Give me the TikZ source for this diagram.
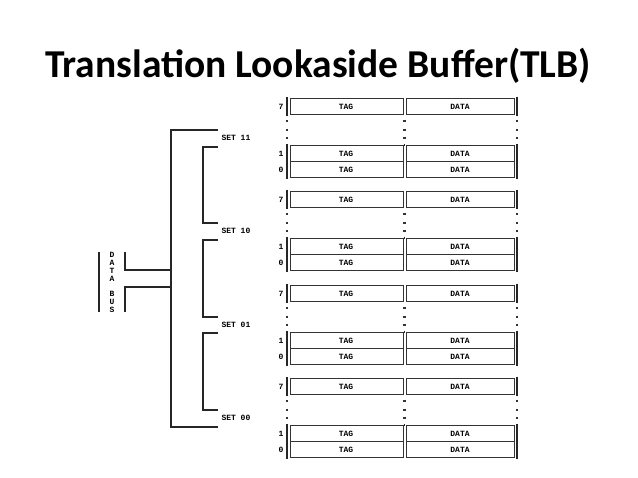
\documentclass[tikz,border=0pt]{standalone}
\usepackage{fontspec}
\setmainfont{Carlito}
\newfontfamily\mono{Liberation Mono}
\begin{document}
\begin{tikzpicture}[x=1pt,y=-1pt,
  ln/.style={line width=1.1pt,black!85},
  cell/.style={draw=black!80,line width=1pt},
  lbl/.style={font=\mono\bfseries\fontsize{8}{9}\selectfont},
  dot/.style={line width=2.4pt,black!80}]
\useasboundingbox (0,0) rectangle (638,478);
\node[font=\bfseries\fontsize{39.5}{44}\selectfont] (title) at (318,66) {Translation Lookaside Buffer(TLB)};
% sets
\foreach \s/\y/\lab in {s3/99/SET 11,s2/192/SET 10,s1/286/SET 01,s0/379/SET 00}{
  \foreach \r/\dy/\n in {a/0/7,b/47/1,c/63/0}{
    \draw[cell] (290,\y+\dy) rectangle (403,\y+\dy+16);
    \draw[cell] (406,\y+\dy) rectangle (514,\y+\dy+16);
    \node[lbl] (\s\r tag) at (346,\y+\dy+8) {TAG};
    \node[lbl] (\s\r data) at (460,\y+\dy+8) {DATA};
    \node[lbl] (\s\r n) at (281,\y+\dy+8) {\n};
  }
  \foreach \xx in {287,404.5,517}{
    \foreach \dd in {22,31,39}{\draw[dot] (\xx,\y+\dd-1.2) -- (\xx,\y+\dd+1.2);}
  }
  \draw[ln] (287,\y-2) -- (287,\y+17);
  \draw[ln] (517,\y-2) -- (517,\y+17);
  \draw[ln] (287,\y+45) -- (287,\y+80);
  \draw[ln] (517,\y+45) -- (517,\y+80);
  \draw[ln] (404.5,\y+45) -- (404.5,\y+47);
  \node[lbl,anchor=west] (\s lab) at (218,\y+39) {\lab};
}
% brackets
\coordinate (o1) at (218,130); \coordinate (o2) at (171,130);
\coordinate (o3) at (171,427); \coordinate (o4) at (218,427);
\draw[ln] (o1) -- (o2) -- (o3) -- (o4);
\foreach \a/\b/\i in {147/223/1,240/317/2,333/410/3}{
  \coordinate (p\i a) at (218,\a); \coordinate (p\i b) at (203,\a);
  \coordinate (p\i c) at (203,\b); \coordinate (p\i d) at (218,\b);
  \draw[ln] (p\i a) -- (p\i b) -- (p\i c) -- (p\i d);
}
% data bus
\coordinate (b1) at (99,252); \coordinate (b2) at (99,312);
\draw[ln] (b1) -- (b2);
\coordinate (c1) at (125,252); \coordinate (c2) at (125,270); \coordinate (c3) at (171,270);
\draw[ln] (c1) -- (c2) -- (c3);
\coordinate (d1) at (125,312); \coordinate (d2) at (125,287); \coordinate (d3) at (171,287);
\draw[ln] (d1) -- (d2) -- (d3);
\foreach \ch/\yy/\k in {D/255/1,A/263/2,T/271/3,A/279/4,B/294/5,U/302/6,S/310/7}{
  \node[lbl,inner sep=0pt] (bus\k) at (112,\yy) {\ch};
}
\end{tikzpicture}
\end{document}
